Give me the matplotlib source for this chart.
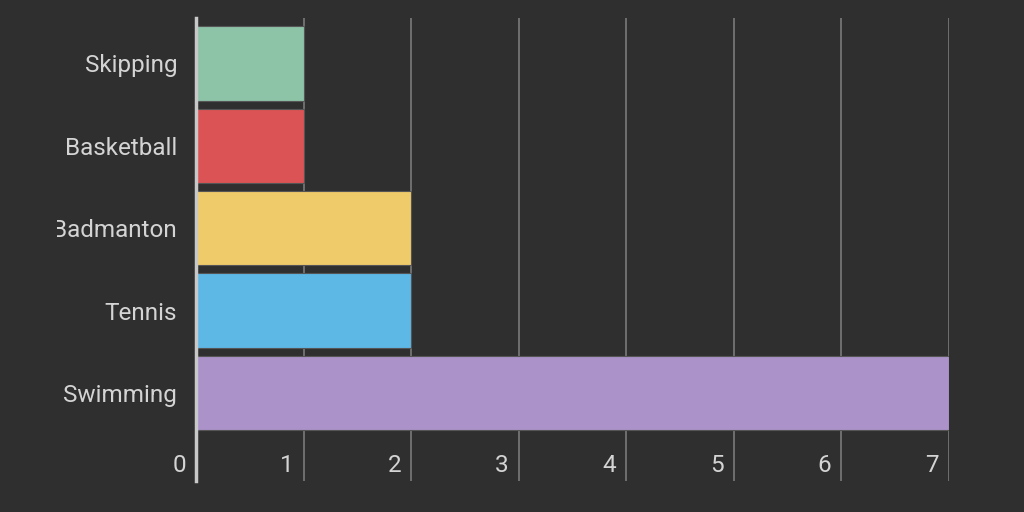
import numpy as np
import matplotlib
matplotlib.use("Agg")
import matplotlib.pyplot as plt
import matplotlib.transforms as mtransforms

# data, listed bottom to top
sports = ["Swimming", "Tennis", "Badmanton", "Basketball", "Skipping"]
counts = [7, 2, 2, 1, 1]
colors = ["#ab92c9", "#5db8e6", "#f0cb69", "#db5354", "#8dc3a7"]
x_ticks = [0, 1, 2, 3, 4, 5, 6, 7]

bg = "#2f2f2f"
text_color = "#d4d4d4"

plt.rcParams["font.family"] = ["Roboto", "DejaVu Sans"]

fig = plt.figure(figsize=(10.24, 5.12), dpi=100, facecolor=bg)
ax = fig.add_axes([196 / 1024, 31 / 512, (949 - 196) / 1024, (481 - 18) / 512])
ax.set_facecolor(bg)

ypos = np.arange(len(sports))
ax.barh(ypos, counts, height=0.904, color=colors, edgecolor="#555555",
        linewidth=0.8, zorder=3)

ax.set_xlim(0, 7)
ax.set_ylim(-1.068, 4.552)

# vertical grid
ax.set_xticks(x_ticks)
ax.grid(axis="x", color="#7a7a7a", linewidth=1.2, zorder=1)
ax.grid(axis="y", visible=False)
ax.tick_params(axis="x", length=0, labelbottom=False)
ax.tick_params(axis="y", length=0, pad=13.5, labelsize=17.5, labelcolor=text_color)

for s in ["top", "right", "bottom"]:
    ax.spines[s].set_visible(False)
ax.spines["left"].set_color("#c8c8c8")
ax.spines["left"].set_linewidth(2.5)
ax.spines["left"].set_zorder(4)

ax.set_yticks(ypos)
ax.set_yticklabels(sports)

# left edge clips the long label
clip = mtransforms.Bbox([[57, 0], [1024, 512]])
for lab in ax.get_yticklabels():
    lab.set_clip_box(clip)
    lab.set_clip_on(True)

# x labels sit left of their grid line, inside the plot
trans = mtransforms.blended_transform_factory(ax.transData, ax.transAxes)
offset = mtransforms.ScaledTranslation(-10 / 100, 0, fig.dpi_scale_trans)
for t in x_ticks:
    ax.text(t, (481 - 466) / 463, str(t), transform=trans + offset,
            ha="right", va="center", fontsize=17.5, color=text_color)

fig.savefig("out.png", dpi=100, facecolor=bg)
